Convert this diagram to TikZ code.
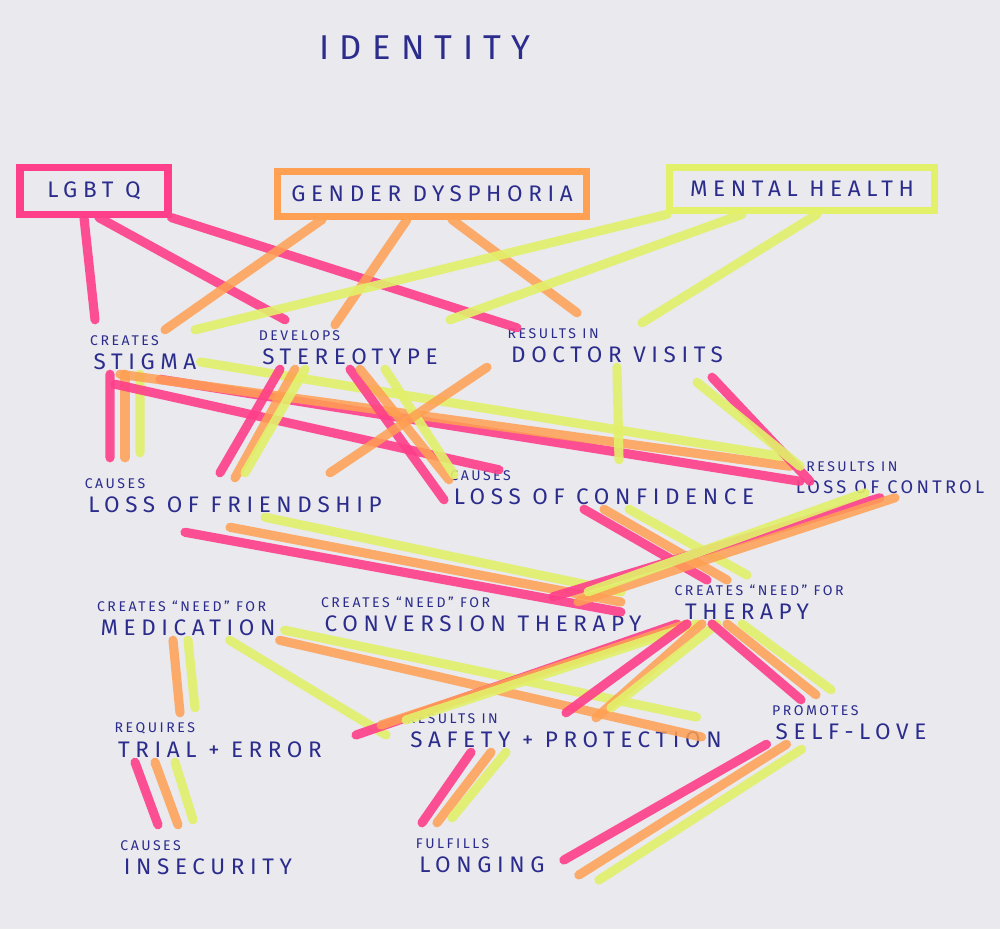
\documentclass[tikz,border=0pt]{standalone}
\usepackage{fontspec}
\setmainfont{Fira Sans}[LetterSpace=18]
\usetikzlibrary{positioning}
\definecolor{ink}{HTML}{2B2C8C}
\definecolor{paper}{HTML}{E9E9EE}
\definecolor{pk}{HTML}{FF3F8A}
\definecolor{og}{HTML}{FFA052}
\definecolor{lm}{HTML}{E2F06A}
\tikzset{
  big/.style={text=ink,font=\fontsize{6.4}{7}\selectfont\addfontfeature{LetterSpace=25},inner sep=1pt},
  small/.style={text=ink,font=\fontsize{4}{4}\selectfont,inner sep=0pt,anchor=south west},
  topbox/.style={big,draw,line width=2pt,inner sep=4pt,minimum height=0.42cm},
  pink/.style={pk,line width=2.6pt,line cap=round,opacity=.9},
  orange/.style={og,line width=2.6pt,line cap=round,opacity=.85},
  lime/.style={lm,line width=2.6pt,line cap=round,opacity=.9}
}
\begin{document}
\begin{tikzpicture}
\fill[paper] (0,0) rectangle (10,-9.29);
\useasboundingbox (0,0) rectangle (10,-9.29);

\node[big,font=\fontsize{9.8}{10}\selectfont\addfontfeature{LetterSpace=30}] (title) at (4.25,-0.48) {IDENTITY};

% top boxes
\node[topbox,draw=pk,minimum width=1.48cm] (lgbtq) at (0.94,-1.91) {LGBT Q};
\node[topbox,draw=og,minimum width=3cm] (gd) at (4.32,-1.94) {GENDER DYSPHORIA};
\node[topbox,draw=lm,minimum width=2.65cm] (mh) at (8.02,-1.89) {MENTAL HEALTH};

% concepts
\node[big] (stigma) at (1.45,-3.62) {STIGMA};
\node[big] (stereo) at (3.5,-3.57) {STEREOTYPE};
\node[big] (doctor) at (6.17,-3.55) {DOCTOR VISITS};
\node[big] (friend) at (2.35,-5.05) {LOSS OF FRIENDSHIP};
\node[big] (confid) at (6.04,-4.97) {LOSS OF CONFIDENCE};
\node[big,font=\fontsize{5.2}{6}\selectfont] (control) at (8.9,-4.87) {LOSS OF CONTROL};
\node[big] (medic) at (1.88,-6.28) {MEDICATION};
\node[big] (convers) at (4.83,-6.24) {CONVERSION THERAPY};
\node[big] (therapy) at (7.47,-6.12) {THERAPY};
\node[big] (trial) at (2.2,-7.5) {TRIAL + ERROR};
\node[big] (safety) at (5.66,-7.4) {SAFETY + PROTECTION};
\node[big] (selflove) at (8.51,-7.32) {SELF-LOVE};
\node[big] (insec) at (2.08,-8.67) {INSECURITY};
\node[big] (longing) at (4.82,-8.65) {LONGING};

% small labels
\node[small] at ([yshift=1pt]stigma.north west) {CREATES};
\node[small] at ([yshift=1pt]stereo.north west) {DEVELOPS};
\node[small] at ([yshift=1pt]doctor.north west) {RESULTS IN};
\node[small] at ([yshift=1pt]friend.north west) {CAUSES};
\node[small] at ([yshift=1pt]confid.north west) {CAUSES};
\node[small] at ([xshift=4pt,yshift=1pt]control.north west) {RESULTS IN};
\node[small] at ([yshift=1pt]medic.north west) {CREATES ``NEED'' FOR};
\node[small] at ([yshift=1pt]convers.north west) {CREATES ``NEED'' FOR};
\node[small] at ([yshift=1pt,xshift=-2pt]therapy.north west) {CREATES ``NEED'' FOR};
\node[small] at ([yshift=1pt]trial.north west) {REQUIRES};
\node[small] at ([yshift=1pt]safety.north west) {RESULTS IN};
\node[small] at ([yshift=1pt]selflove.north west) {PROMOTES};
\node[small] at ([yshift=1pt]insec.north west) {CAUSES};
\node[small] at ([yshift=1pt]longing.north west) {FULFILLS};

% from the top boxes
\draw[pink] ([xshift=-0.1cm]lgbtq.south) -- ([xshift=-0.5cm,yshift=0.3cm]stigma.north);
\draw[pink] ([xshift=0.05cm]lgbtq.south) -- ([xshift=-0.65cm,yshift=0.25cm]stereo.north);
\draw[pink] (lgbtq.south east) -- ([xshift=-1cm,yshift=0.15cm]doctor.north);
\draw[orange] ([xshift=-1.1cm]gd.south) -- ([xshift=0.2cm,yshift=0.2cm]stigma.north);
\draw[orange] ([xshift=-0.25cm]gd.south) -- ([xshift=-0.15cm,yshift=0.2cm]stereo.north);
\draw[orange] ([xshift=0.2cm]gd.south) -- ([xshift=-0.4cm,yshift=0.3cm]doctor.north);
\draw[lime] ([xshift=-1.35cm]mh.south) -- ([xshift=0.5cm,yshift=0.2cm]stigma.north);
\draw[lime] ([xshift=-0.6cm]mh.south) -- ([xshift=1cm,yshift=0.25cm]stereo.north);
\draw[lime] ([xshift=0.15cm]mh.south) -- ([xshift=0.25cm,yshift=0.2cm]doctor.north);

% stigma
\draw[pink] ([xshift=-0.35cm]stigma.south) -- ([xshift=-1.25cm,yshift=0.35cm]friend.north);
\draw[orange] ([xshift=-0.2cm]stigma.south) -- ([xshift=-1.1cm,yshift=0.35cm]friend.north);
\draw[lime] ([xshift=-0.05cm]stigma.south) -- ([xshift=-0.95cm,yshift=0.4cm]friend.north);
\draw[pink] ([xshift=-0.3cm,yshift=-0.1cm]stigma.south) -- ([xshift=-1.05cm,yshift=0.15cm]confid.north);
\draw[pink] ([xshift=0.15cm,yshift=-0.05cm]stigma.south) -- ([xshift=-0.9cm,yshift=-0.05cm]control.north);
\draw[orange] ([xshift=-0.25cm]stigma.south) -- ([xshift=-1cm,yshift=0.1cm]control.north);
\draw[lime] (stigma.east) -- ([xshift=-1.1cm,yshift=0.2cm]control.north);

% stereotype
\draw[pink] ([xshift=-0.7cm]stereo.south) -- ([xshift=-0.15cm,yshift=0.2cm]friend.north);
\draw[orange] ([xshift=-0.55cm]stereo.south) -- ([xshift=0cm,yshift=0.15cm]friend.north);
\draw[lime] ([xshift=-0.45cm]stereo.south) -- ([xshift=0.1cm,yshift=0.2cm]friend.north);
\draw[pink] ([xshift=0cm]stereo.south) -- ([xshift=-1.6cm,yshift=-0.15cm]confid.north);
\draw[orange] ([xshift=0.1cm]stereo.south) -- ([xshift=-1.55cm,yshift=0.05cm]confid.north);
\draw[lime] ([xshift=0.35cm]stereo.south) -- ([xshift=-1.5cm,yshift=0.1cm]confid.north);

% doctor visits
\draw[orange] ([xshift=-1.3cm]doctor.south) -- ([xshift=0.95cm,yshift=0.2cm]friend.north);
\draw[lime] ([xshift=0cm]doctor.south) -- ([xshift=0.15cm,yshift=0.25cm]confid.north);
\draw[pink] ([xshift=0.95cm,yshift=-0.1cm]doctor.south) -- ([xshift=-0.8cm,yshift=-0.05cm]control.north);
\draw[lime] ([xshift=0.8cm,yshift=-0.15cm]doctor.south) -- ([xshift=-0.9cm,yshift=0.1cm]control.north);

% loss of friendship / confidence / control
\draw[pink] ([xshift=-0.5cm,yshift=-0.15cm]friend.south) -- ([xshift=-0.6cm,yshift=0cm]therapy.west);
\draw[orange] ([xshift=-0.05cm,yshift=-0.1cm]friend.south) -- ([xshift=-0.6cm,yshift=0.1cm]therapy.west);
\draw[lime] ([xshift=0.3cm]friend.south) -- ([xshift=-0.6cm,yshift=0.2cm]therapy.west);
\draw[pink] ([xshift=-0.2cm]confid.south) -- ([xshift=-0.4cm,yshift=0.2cm]therapy.north);
\draw[orange] ([xshift=0cm]confid.south) -- ([xshift=-0.2cm,yshift=0.2cm]therapy.north);
\draw[lime] ([xshift=0.25cm]confid.south) -- ([xshift=0cm,yshift=0.25cm]therapy.north);
\draw[pink] ([xshift=-0.1cm]control.south) -- ([xshift=0.7cm,yshift=0.15cm]convers.north);
\draw[orange] ([xshift=0.05cm]control.south) -- ([xshift=0.95cm,yshift=0.1cm]convers.north);
\draw[lime] ([xshift=-0.25cm,yshift=0.05cm]control.south) -- ([xshift=1.05cm,yshift=0.2cm]convers.north);

% medication
\draw[orange] ([xshift=-0.15cm]medic.south) -- ([xshift=-0.4cm,yshift=0.25cm]trial.north);
\draw[lime] ([xshift=0cm]medic.south) -- ([xshift=-0.25cm,yshift=0.3cm]trial.north);
\draw[orange] (medic.south east) -- ([xshift=-0.7cm,yshift=-0.05cm]selflove.west);
\draw[lime] ([xshift=-0.5cm]medic.south east) -- ([xshift=-0.2cm,yshift=0.05cm]safety.west);
\draw[lime] ([xshift=0.05cm,yshift=0.1cm]medic.south east) -- ([xshift=-0.75cm,yshift=0.15cm]selflove.west);

% therapy
\draw[pink] ([xshift=-0.7cm]therapy.south) -- ([xshift=0.3cm,yshift=0.15cm]trial.east);
\draw[orange] ([xshift=-0.6cm]therapy.south) -- ([xshift=0.55cm,yshift=0.25cm]trial.east);
\draw[lime] ([xshift=-0.5cm]therapy.south) -- ([xshift=0.8cm,yshift=0.3cm]trial.east);
\draw[pink] ([xshift=-0.6cm]therapy.south) -- ([xshift=0cm,yshift=0.15cm]safety.north);
\draw[orange] ([xshift=-0.45cm]therapy.south) -- ([xshift=0.3cm,yshift=0.1cm]safety.north);
\draw[lime] ([xshift=-0.3cm]therapy.south) -- ([xshift=0.45cm,yshift=0.2cm]safety.north);
\draw[pink] ([xshift=-0.35cm]therapy.south) -- ([xshift=-0.5cm,yshift=0.2cm]selflove.north);
\draw[orange] ([xshift=-0.2cm]therapy.south) -- ([xshift=-0.35cm,yshift=0.25cm]selflove.north);
\draw[lime] ([xshift=-0.05cm]therapy.south) -- ([xshift=-0.2cm,yshift=0.3cm]selflove.north);

% lower level
\draw[pink] ([xshift=-0.85cm]trial.south) -- ([xshift=-0.5cm,yshift=0.3cm]insec.north);
\draw[orange] ([xshift=-0.65cm]trial.south) -- ([xshift=-0.3cm,yshift=0.3cm]insec.north);
\draw[lime] ([xshift=-0.45cm]trial.south) -- ([xshift=-0.15cm,yshift=0.35cm]insec.north);
\draw[pink] ([xshift=-0.95cm]safety.south) -- ([xshift=-0.6cm,yshift=0.3cm]longing.north);
\draw[orange] ([xshift=-0.75cm]safety.south) -- ([xshift=-0.45cm,yshift=0.3cm]longing.north);
\draw[lime] ([xshift=-0.6cm]safety.south) -- ([xshift=-0.3cm,yshift=0.35cm]longing.north);
\draw[pink] ([xshift=-0.05cm]selflove.south west) -- ([xshift=0.15cm,yshift=0.05cm]longing.east);
\draw[orange] ([xshift=0.15cm]selflove.south west) -- ([xshift=0.3cm,yshift=-0.1cm]longing.east);
\draw[lime] ([xshift=0.3cm,yshift=-0.05cm]selflove.south west) -- ([xshift=0.5cm,yshift=-0.15cm]longing.east);
\end{tikzpicture}
\end{document}
